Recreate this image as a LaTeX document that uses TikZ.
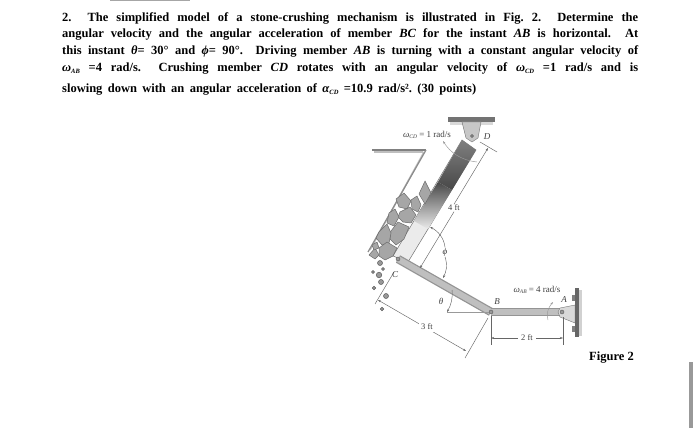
\documentclass[tikz,border=0pt]{standalone}
\usepackage{fontspec}
\setmainfont{Liberation Serif}
\usetikzlibrary{arrows.meta}
\newcommand{\subsym}[2]{\textit{#1}\raisebox{-2pt}{\fontsize{6.5}{7}\selectfont\textit{#2}}}
\frenchspacing
\tikzset{
  para/.style={anchor=base west,inner sep=0pt,font=\fontsize{12.5}{14}\selectfont\bfseries},
  lab/.style={inner sep=0.5pt,font=\fontsize{8.5}{9}\selectfont,text=black!75},
  ilab/.style={inner sep=0.5pt,font=\fontsize{9}{10}\selectfont\itshape,text=black!75},
  dim/.style={draw=black!60,line width=0.45pt},
  dimar/.style={dim,{Stealth[length=3pt,width=2pt]}-{Stealth[length=3pt,width=2pt]}},
  rock/.style={fill=black!35,draw=black!58,line width=0.5pt,line join=round},
  stone/.style={circle,fill=black!40,draw=black!65,line width=0.5pt,inner sep=0pt,minimum size=#1},
  pin/.style={circle,fill=black!40,draw=black!65,line width=0.4pt,inner sep=0pt,minimum size=4pt},
  linkout/.style={line width=8.5pt,draw=black!42},
  linkin/.style={line width=6pt,draw=black!25},
}
\begin{document}
\begin{tikzpicture}[x=1pt,y=-1pt]
\useasboundingbox (0,0) rectangle (700,430);
\fill[white] (0,0) rectangle (700,430);
\fill[black!35] (110,-1) rectangle (190,1);
\fill[black!40] (689,362) rectangle (693,428);
% text
\node[para] (t1) at (62,22) {\makebox[576pt][s]{2.\ \ The simplified model of a stone-crushing mechanism is illustrated in Fig. 2.\ \ Determine the}};
\node[para] (t2) at (62,38) {\makebox[576pt][s]{angular velocity and the angular acceleration of member \textit{BC} for the instant \textit{AB} is horizontal.\ \ At}};
\node[para] (t3) at (62,55) {\makebox[576pt][s]{this instant \textit{θ}= 30° and \textit{ϕ}= 90°.\ \ Driving member \textit{AB} is turning with a constant angular velocity of}};
\node[para] (t4) at (62,72) {\makebox[576pt][s]{\subsym{ω}{AB} =4 rad/s.\ \ Crushing member \textit{CD} rotates with an angular velocity of \subsym{ω}{CD} =1 rad/s and is}};
\node[para] (t5) at (62,93) {\makebox[414pt][s]{slowing down with an angular acceleration of \subsym{α}{CD} =10.9 rad/s². (30 points)}};
\node[para] (fig) at (589,360) {Figure 2};
% joints
\coordinate (A) at (562,312);
\coordinate (B) at (491,312);
\coordinate (C) at (398,259);
\coordinate (D) at (472,136);
% chute
\draw[black!25,line width=1.5pt] (374,152) -- (423,152);
\draw[black!50,line width=1.6pt] (372,150) -- (426,150);
\draw[black!25,line width=1.5pt] (424,152) -- (370,250);
\draw[black!45,line width=1.2pt] (426,150) -- (368,252);
% wall D
\fill[black!15] (450,122) rectangle (493,125);
\fill[black!55] (448,117) rectangle (495,122);
\filldraw[fill=black!22,draw=black!55,line width=0.4pt] (462,122) -- (481,122) -- (478,138) -- (472,142) -- (466,138) -- cycle;
% member CD
\fill[black!8,draw=black!55,line width=0.5pt] (462,140) -- (476,150) -- (408,262) -- (393,256) -- cycle;
\shade[shading angle=30,top color=black!50,bottom color=black!72] (462,140) -- (476,150) -- (452,190) -- (438,182) -- cycle;
\shade[shading angle=30,top color=black!72,bottom color=black!8] (438,182) -- (452,190) -- (428,229) -- (414,221) -- cycle;
\node[pin,minimum size=3pt] (pd) at (D) {};
% rocks
\draw[rock] (419,194) -- (425,181) -- (431,193) -- (425,204) -- cycle;
\draw[rock] (396,199) -- (404,193) -- (411,201) -- (407,209) -- (399,207) -- cycle;
\draw[rock] (411,200) -- (417,196) -- (421,205) -- (418,212) -- (412,209) -- cycle;
\draw[rock] (400,212) -- (410,207) -- (416,215) -- (411,223) -- (403,222) -- (398,217) -- cycle;
\draw[rock] (389,213) -- (395,209) -- (399,217) -- (394,226) -- (387,223) -- cycle;
\draw[rock] (391,231) -- (398,222) -- (409,227) -- (404,239) -- (396,245) -- (390,239) -- cycle;
\draw[rock] (379,232) -- (387,224) -- (391,233) -- (389,243) -- (382,245) -- (376,238) -- cycle;
\draw[rock] (379,248) -- (387,242) -- (397,248) -- (393,256) -- (385,260) -- (379,256) -- cycle;
\draw[rock] (369,255) -- (375,248) -- (379,255) -- (375,259) -- cycle;
\draw[rock] (372,245) -- (377,242) -- (379,248) -- (374,250) -- cycle;
% stones
\node[stone=5pt] (s1) at (380,263) {};
\node[stone=3pt] (s2) at (373,272) {};
\node[stone=3pt] (s3) at (383,269) {};
\node[stone=5.5pt] (s4) at (379,275) {};
\node[stone=5pt] (s5) at (381,282) {};
\node[stone=3.5pt] (s6) at (374,288) {};
\node[stone=5pt] (s7) at (386,296) {};
\node[stone=3.5pt] (s8) at (382,309) {};
% links
\draw[linkout] (C) -- (B);
\draw[linkin] (C) -- (B);
\draw[linkout] (B) -- (A);
\draw[linkin] (B) -- (A);
% wall A
\fill[black!18] (579,290) rectangle (582,336);
\filldraw[fill=black!15,draw=black!55,line width=0.4pt] (575,305) -- (560,308) -- (558,312) -- (560,317) -- (575,323) -- cycle;
\fill[black!60] (575,288) rectangle (579,337);
\fill[black!50] (572,295) rectangle (575,301);
\fill[black!50] (572,326) rectangle (575,332);
\node[pin] (pa) at (A) {};
\node[pin] (pb) at (B) {};
\node[pin] (pc) at (C) {};
% dimension 4 ft
\coordinate (d4a) at (488,148);
\coordinate (d4b) at (420,268);
\coordinate (d4e1) at (480,142);
\coordinate (d4e2) at (497,152);
\node[lab] (l4) at (454,208) {4 ft};
\draw[dim] (d4e1) -- (d4e2);
\draw[dim,{Stealth[length=3pt,width=2pt]}-] (d4a) -- (l4.north);
\draw[dim,-{Stealth[length=3pt,width=2pt]}] (l4.south) -- (d4b);
% phi
\coordinate (ph1) at (430,227);
\coordinate (ph2) at (443,278);
\node[ilab] (lphi) at (445,252) {ϕ};
\draw[dim,{Stealth[length=3pt,width=2pt]}-] (ph1) .. controls (438,231) and (444,238) .. (lphi.north);
\draw[dim,-{Stealth[length=3pt,width=2pt]}] (lphi.south) .. controls (448,266) and (446,272) .. (ph2);
% theta
\coordinate (th1) at (452,290);
\coordinate (th2) at (447,312);
\node[ilab] (lth) at (441,301) {θ};
\draw[dim,-{Stealth[length=3pt,width=2pt]}] (th1) .. controls (453,298) and (451,305) .. (th2);
\draw[dim,black!40] (th2) -- (pb);
% dimension 3 ft
\coordinate (e1a) at (394,272);
\coordinate (e1b) at (375,304);
\coordinate (e2a) at (488,318);
\coordinate (e2b) at (465,358);
\coordinate (d3a) at (378,300);
\coordinate (d3b) at (466,351);
\draw[dim] (e1a) -- (e1b);
\draw[dim] (e2a) -- (e2b);
\draw[dimar] (d3a) -- (d3b);
\node[lab,fill=white,inner sep=2pt] (l3) at (427,327) {3 ft};
% dimension 2 ft
\coordinate (g1a) at (491,316);
\coordinate (g1b) at (491,345);
\coordinate (g2a) at (563,317);
\coordinate (g2b) at (563,345);
\coordinate (h1) at (491,338);
\coordinate (h2) at (563,338);
\draw[dim] (g1a) -- (g1b);
\draw[dim] (g2a) -- (g2b);
\draw[dimar] (h1) -- (h2);
\node[lab,fill=white,inner xsep=3pt] (l2) at (527,338) {2 ft};
% angular velocities
\node[lab,font=\fontsize{9}{10}\selectfont] (wcd) at (427,135) {\textit{ω}\raisebox{-1.5pt}{\fontsize{5.5}{6}\selectfont\textit{CD}} = 1 rad/s};
\node[lab,font=\fontsize{9}{10}\selectfont] (wab) at (537,290) {\textit{ω}\raisebox{-1.5pt}{\fontsize{5.5}{6}\selectfont\textit{AB}} = 4 rad/s};
\coordinate (w1) at (443,141);
\coordinate (w2) at (477,162);
\coordinate (w3) at (548,320);
\coordinate (w4) at (553,302);
\draw[dim,black!40,-{Stealth[length=3pt,width=2pt]}] (w2) .. controls (460,160) and (450,152) .. (w1);
\draw[dim,black!40,-{Stealth[length=3pt,width=2pt]}] (w3) .. controls (546,314) and (548,308) .. (w4);
% joint labels
\node[ilab] (la) at (564,300) {A};
\node[ilab] (lb) at (497,302) {B};
\node[ilab] (lc) at (395,275) {C};
\node[ilab] (ld) at (487,137) {D};
\end{tikzpicture}
\end{document}
